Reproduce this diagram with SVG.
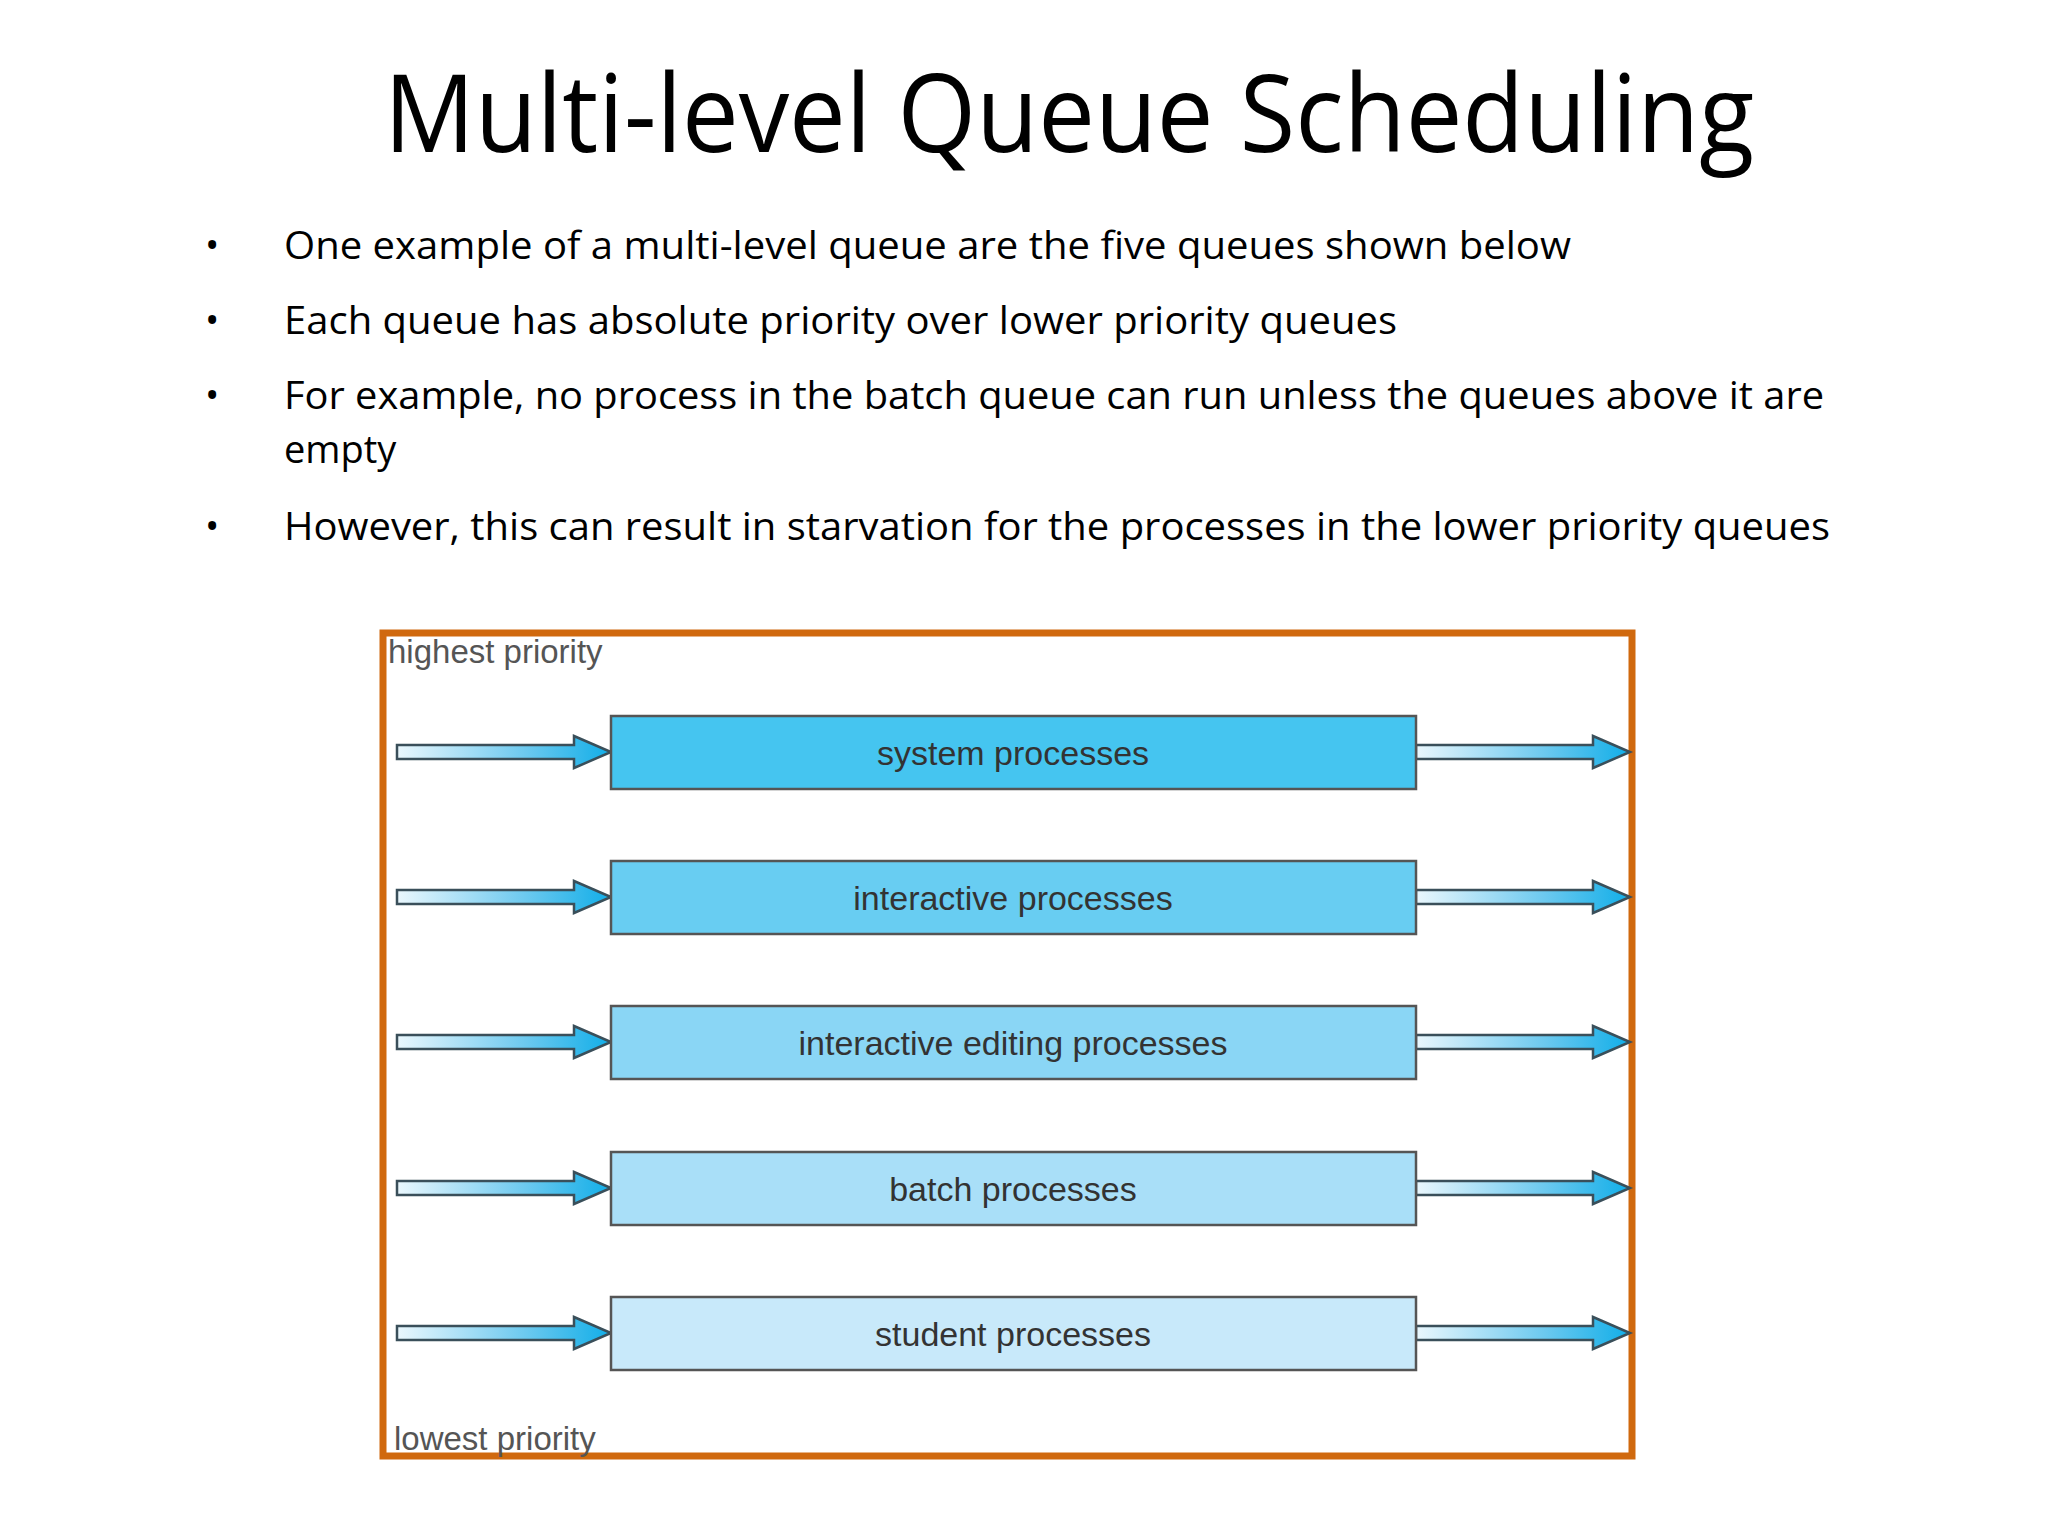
<svg xmlns="http://www.w3.org/2000/svg" width="2048" height="1536" viewBox="0 0 2048 1536">
<defs>
<linearGradient id="ag" x1="0" y1="0" x2="1" y2="0">
<stop offset="0" stop-color="#eaf7fd"/><stop offset="0.6" stop-color="#6cc9ef"/><stop offset="1" stop-color="#12aee8"/>
</linearGradient>
<path id="arr" d="M0,-7 L177,-7 L177,-16 L214,0 L177,16 L177,7 L0,7 Z" fill="url(#ag)" stroke="#3a4f5a" stroke-width="2.5"/>
</defs>
<style>
.t{font-family:"Open Sans","Liberation Sans",sans-serif;fill:#000}
.b{font-family:"Open Sans","Liberation Sans",sans-serif;font-size:38px;fill:#000}
.q{stroke:#555;stroke-width:2.5}
.ql{font-family:"Liberation Sans",Arial,sans-serif;font-size:34px;fill:#333;text-anchor:middle}
.p{font-family:"Liberation Sans",Arial,sans-serif;font-size:33px;fill:#555}
</style>
<rect width="2048" height="1536" fill="#fff"/>
<text class="t" x="1069" y="152" font-size="108" text-anchor="middle" textLength="1370" lengthAdjust="spacingAndGlyphs">Multi-level Queue Scheduling</text>
<g class="b">
<text x="205" y="259">•</text><text x="284" y="259" textLength="1287" lengthAdjust="spacingAndGlyphs">One example of a multi-level queue are the five queues shown below</text>
<text x="205" y="334">•</text><text x="284" y="334" textLength="1113" lengthAdjust="spacingAndGlyphs">Each queue has absolute priority over lower priority queues</text>
<text x="205" y="409">•</text><text x="284" y="409" textLength="1540" lengthAdjust="spacingAndGlyphs">For example, no process in the batch queue can run unless the queues above it are</text>
<text x="284" y="463">empty</text>
<text x="205" y="540">•</text><text x="284" y="540" textLength="1546" lengthAdjust="spacingAndGlyphs">However, this can result in starvation for the processes in the lower priority queues</text>
</g>
<g id="frame">
<rect x="383" y="633" width="1249" height="823" fill="#fff" stroke="#d0690e" stroke-width="7"/>
<text class="p" x="388" y="663">highest priority</text>
<text class="p" x="394" y="1450">lowest priority</text>
</g>
<g id="connectors">
<use href="#arr" x="397" y="752"/><use href="#arr" x="1416" y="752"/>
<use href="#arr" x="397" y="897"/><use href="#arr" x="1416" y="897"/>
<use href="#arr" x="397" y="1042"/><use href="#arr" x="1416" y="1042"/>
<use href="#arr" x="397" y="1188"/><use href="#arr" x="1416" y="1188"/>
<use href="#arr" x="397" y="1333"/><use href="#arr" x="1416" y="1333"/>
</g>
<g id="q1"><rect class="q" x="611" y="716" width="805" height="73" fill="#45c5f0"/><text class="ql" x="1013" y="765">system processes</text></g>
<g id="q2"><rect class="q" x="611" y="861" width="805" height="73" fill="#68cdf2"/><text class="ql" x="1013" y="910">interactive processes</text></g>
<g id="q3"><rect class="q" x="611" y="1006" width="805" height="73" fill="#8ad6f5"/><text class="ql" x="1013" y="1055">interactive editing processes</text></g>
<g id="q4"><rect class="q" x="611" y="1152" width="805" height="73" fill="#a9dff8"/><text class="ql" x="1013" y="1201">batch processes</text></g>
<g id="q5"><rect class="q" x="611" y="1297" width="805" height="73" fill="#c8e9fa"/><text class="ql" x="1013" y="1346">student processes</text></g>
</svg>
